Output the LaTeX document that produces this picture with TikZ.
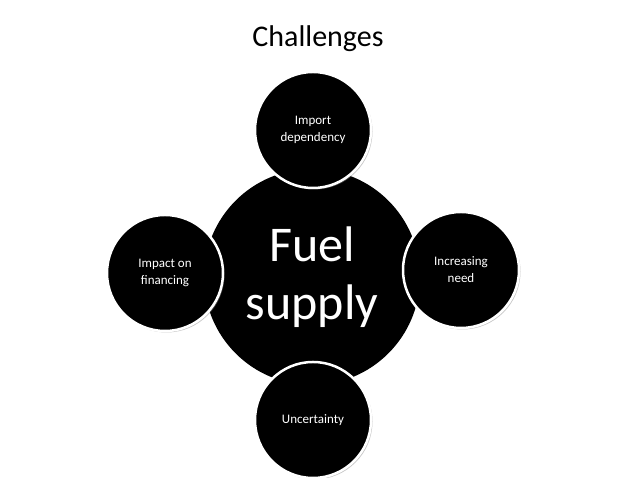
\documentclass[tikz,border=0pt]{standalone}
\usepackage{fontspec}
\setmainfont{Carlito}
\usetikzlibrary{shadows}
\begin{document}
\begin{tikzpicture}[x=1pt,y=1pt,
  big/.style={circle,fill=black,minimum size=216pt,inner sep=0pt,text=white,align=center,font=\fontsize{50}{58}\selectfont},
  small/.style={circle,fill=black,draw=white,line width=2.5pt,minimum size=116pt,inner sep=0pt,text=white,align=center,font=\fontsize{13}{17}\selectfont,
    drop shadow={shadow xshift=1.5pt,shadow yshift=-1.5pt,fill=black!45}}]
\useasboundingbox (0,0) rectangle (638,478);
\node[font=\fontsize{30}{36}\selectfont] (title) at (318,439) {Challenges};
\node[big] (fuel) at (312,201) {Fuel\\supply};
\node[small] (top) at (313,348) {Import\\dependency};
\node[small] (left) at (165,205) {Impact on\\financing};
\node[small] (right) at (461,208) {Increasing\\need};
\node[small] (bottom) at (313,58) {Uncertainty};
\end{tikzpicture}
\end{document}
